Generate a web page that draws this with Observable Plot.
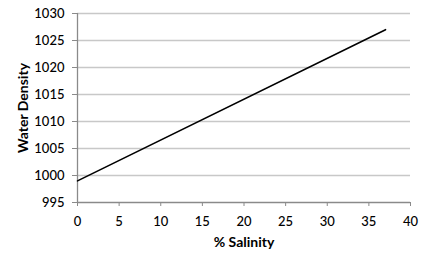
<!DOCTYPE html>
<html>
<head>
<meta charset="utf-8">
<script src="https://cdn.jsdelivr.net/npm/d3@7"></script>
<script src="https://cdn.jsdelivr.net/npm/@observablehq/plot@0.6"></script>
<style>
  html, body { margin: 0; padding: 0; background: #fff; }
  svg { display: block; }
</style>
</head>
<body>
<div id="chart"></div>
<script>
const salinity = [0, 37];
const density = [999, 1027];
const xTicks = [0, 5, 10, 15, 20, 25, 30, 35, 40];
const yTicks = [995, 1000, 1005, 1010, 1015, 1020, 1025, 1030];
const xTitle = "% Salinity";
const yTitle = "Water Density";

const data = salinity.map((s, i) => ({s, d: density[i]}));

const chart = Plot.plot({
  width: 427,
  height: 263,
  marginLeft: 77,
  marginRight: 17,
  marginTop: 13,
  marginBottom: 61,
  style: {fontFamily: "Lato, 'Open Sans', sans-serif", fontSize: "13px", color: "#000", background: "#fff"},
  x: {domain: [0, 40]},
  y: {domain: [995, 1030]},
  marks: [
    Plot.ruleY(yTicks.slice(1), {stroke: "#c8c8c8", strokeWidth: 1.3}),
    Plot.axisY({ticks: yTicks, tickFormat: "d", tickSize: 5, tickPadding: 8, stroke: "#8a8a8a", label: yTitle,
      labelAnchor: "center", labelArrow: "none", labelOffset: 59, fontSize: 13}),
    Plot.axisX({ticks: xTicks, tickFormat: "d", tickSize: 4, tickPadding: 10, stroke: "#8a8a8a", label: xTitle,
      labelAnchor: "center", labelArrow: "none", labelOffset: 44, fontSize: 13}),
    Plot.ruleY([995], {stroke: "#8a8a8a", strokeWidth: 1.3}),
    Plot.ruleX([0], {stroke: "#8a8a8a", strokeWidth: 1.3}),
    Plot.line(data, {x: "s", y: "d", stroke: "#000", strokeWidth: 1.6})
  ]
});
document.getElementById("chart").appendChild(chart);
chart.querySelectorAll("g[aria-label='y-axis label'] text, g[aria-label='x-axis label'] text")
  .forEach(t => { t.setAttribute("font-weight", "bold"); t.setAttribute("font-size", "14"); });
chart.querySelectorAll("g[aria-label='y-axis tick label'] text, g[aria-label='x-axis tick label'] text")
  .forEach(t => { t.setAttribute("font-weight", "500"); });
</script>
</body>
</html>
